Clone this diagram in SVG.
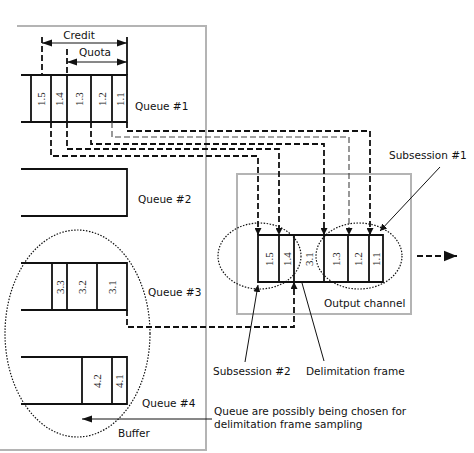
<svg xmlns="http://www.w3.org/2000/svg" width="474" height="453" viewBox="0 0 474 453">
<defs>
<style>
.t{font-family:"DejaVu Sans","Liberation Sans",sans-serif;font-size:10.5px;fill:#111}
.c{font-family:"Liberation Serif","DejaVu Serif",serif;font-size:11px;fill:#222}
.q{fill:none;stroke:#111;stroke-width:1.8}
.g{fill:none;stroke:#b4b4b4;stroke-width:2}
.d{fill:none;stroke:#111;stroke-width:1.8;stroke-dasharray:6 3}
.dl{fill:none;stroke:#444;stroke-width:1.1;stroke-dasharray:6 3}
.dot{fill:none;stroke:#111;stroke-width:1.2;stroke-dasharray:1.5 1.5}
.s{fill:none;stroke:#111;stroke-width:1}
</style>
<marker id="ah" viewBox="0 0 10 10" refX="10" refY="5" markerWidth="7" markerHeight="7" markerUnits="userSpaceOnUse" orient="auto"><path d="M0,0L10,5L0,10z" fill="#111"/></marker>
<marker id="ahb" viewBox="0 0 10 10" refX="10" refY="5" markerWidth="10" markerHeight="10" markerUnits="userSpaceOnUse" orient="auto"><path d="M0,1.5L10,5L0,8.5z" fill="#111"/></marker>
<marker id="ahs" viewBox="0 0 10 10" refX="0" refY="5" markerWidth="10" markerHeight="10" markerUnits="userSpaceOnUse" orient="auto"><path d="M10,1.5L0,5L10,8.5z" fill="#111"/></marker>
<marker id="ahl" viewBox="0 0 10 10" refX="10" refY="5" markerWidth="13" markerHeight="13" markerUnits="userSpaceOnUse" orient="auto"><path d="M0,1L10,5L0,9z" fill="#111"/></marker>
</defs>

<g id="buffer">
<path class="g" d="M17,26H206V450H0"/>
<text class="t" x="118" y="437">Buffer</text>
</g>

<g id="credit-quota">
<line class="d" x1="42" y1="37" x2="42" y2="75"/>
<line class="q" x1="127" y1="37" x2="127" y2="75"/>
<line class="d" x1="67" y1="49" x2="67" y2="75"/>
<line class="s" x1="42" y1="43" x2="127" y2="43" marker-start="url(#ahs)" marker-end="url(#ahb)"/>
<line class="s" x1="67" y1="62" x2="127" y2="62" marker-start="url(#ahs)" marker-end="url(#ahb)"/>
<text class="t" x="79" y="39" text-anchor="middle">Credit</text>
<text class="t" x="95" y="56" text-anchor="middle">Quota</text>
</g>

<g id="queue1">
<path class="q" d="M21,75H127V122H21M31,75V122M51,75V122M67,75V122M91,75V122M112,75V122"/>
<text class="c" transform="translate(44.5,99) rotate(-90)" text-anchor="middle">1.5</text>
<text class="c" transform="translate(62.5,99) rotate(-90)" text-anchor="middle">1.4</text>
<text class="c" transform="translate(82.5,99) rotate(-90)" text-anchor="middle">1.3</text>
<text class="c" transform="translate(105.5,99) rotate(-90)" text-anchor="middle">1.2</text>
<text class="c" transform="translate(123.5,99) rotate(-90)" text-anchor="middle">1.1</text>
<text class="t" x="135" y="110">Queue #1</text>
</g>

<g id="queue2">
<path class="q" d="M21,169H127V216H21"/>
<text class="t" x="138" y="203">Queue #2</text>
</g>

<g id="queue3">
<path class="q" d="M21,263H127V310H21M52,263V310M67,263V310M97,263V310"/>
<text class="c" transform="translate(63.5,287) rotate(-90)" text-anchor="middle">3.3</text>
<text class="c" transform="translate(85.5,287) rotate(-90)" text-anchor="middle">3.2</text>
<text class="c" transform="translate(115.5,287) rotate(-90)" text-anchor="middle">3.1</text>
<text class="t" x="148" y="296">Queue #3</text>
</g>

<g id="queue4">
<path class="q" d="M21,357H127V404H21M82,357V404M112,357V404"/>
<text class="c" transform="translate(100.5,381) rotate(-90)" text-anchor="middle">4.2</text>
<text class="c" transform="translate(123,381) rotate(-90)" text-anchor="middle">4.1</text>
<text class="t" x="142" y="407">Queue #4</text>
</g>

<g id="selection-ellipse">
<ellipse class="dot" cx="77.5" cy="333.5" rx="72.5" ry="103.5"/>
</g>

<g id="output-channel">
<rect class="g" x="237" y="174" width="174" height="140"/>
<path class="q" d="M258,235H383V282H258ZM279,235V282M294,235V282M324,235V282M348,235V282M369,235V282"/>
<text class="c" transform="translate(272.5,259) rotate(-90)" text-anchor="middle">1.5</text>
<text class="c" transform="translate(290.5,259) rotate(-90)" text-anchor="middle">1.4</text>
<text class="c" transform="translate(312.5,259) rotate(-90)" text-anchor="middle">3.1</text>
<text class="c" transform="translate(339.5,259) rotate(-90)" text-anchor="middle">1.3</text>
<text class="c" transform="translate(362,259) rotate(-90)" text-anchor="middle">1.2</text>
<text class="c" transform="translate(380,259) rotate(-90)" text-anchor="middle">1.1</text>
<text class="t" x="324" y="307">Output channel</text>
</g>

<g id="subsession1">
<ellipse class="dot" cx="359" cy="256" rx="43" ry="33"/>
<text class="t" x="389" y="159">Subsession #1</text>
</g>

<g id="subsession2">
<ellipse class="dot" cx="259.5" cy="256" rx="41.5" ry="33"/>
<text class="t" x="213" y="375">Subsession #2</text>
</g>

<g id="delimitation">
<text class="t" x="306" y="375">Delimitation frame</text>
</g>

<g id="note">
<text class="t" x="214" y="415">Queue are possibly being chosen for</text>
<text class="t" x="214" y="428">delimitation frame sampling</text>
</g>

<g id="connectors">
<path class="d" d="M127,122V131H370V235" marker-end="url(#ah)"/>
<path class="dl" d="M112,122V137H349V235" marker-end="url(#ah)"/>
<path class="d" d="M91,122V144H324V235" marker-end="url(#ah)"/>
<path class="d" d="M67,122V149H279V235" marker-end="url(#ah)"/>
<path class="d" d="M51,122V156H258V235" marker-end="url(#ah)"/>
<path class="d" d="M127,310V327H294V282" marker-end="url(#ah)"/>
<line class="d" x1="417" y1="256" x2="457" y2="256" marker-end="url(#ahl)"/>
<line class="s" x1="440" y1="167" x2="380" y2="231" marker-end="url(#ah)"/>
<line class="s" x1="245" y1="362" x2="258" y2="285" marker-end="url(#ah)"/>
<line class="s" x1="324" y1="361" x2="302" y2="283"/>
<line class="s" x1="212" y1="419" x2="82" y2="419" marker-end="url(#ahb)"/>
</g>
</svg>
